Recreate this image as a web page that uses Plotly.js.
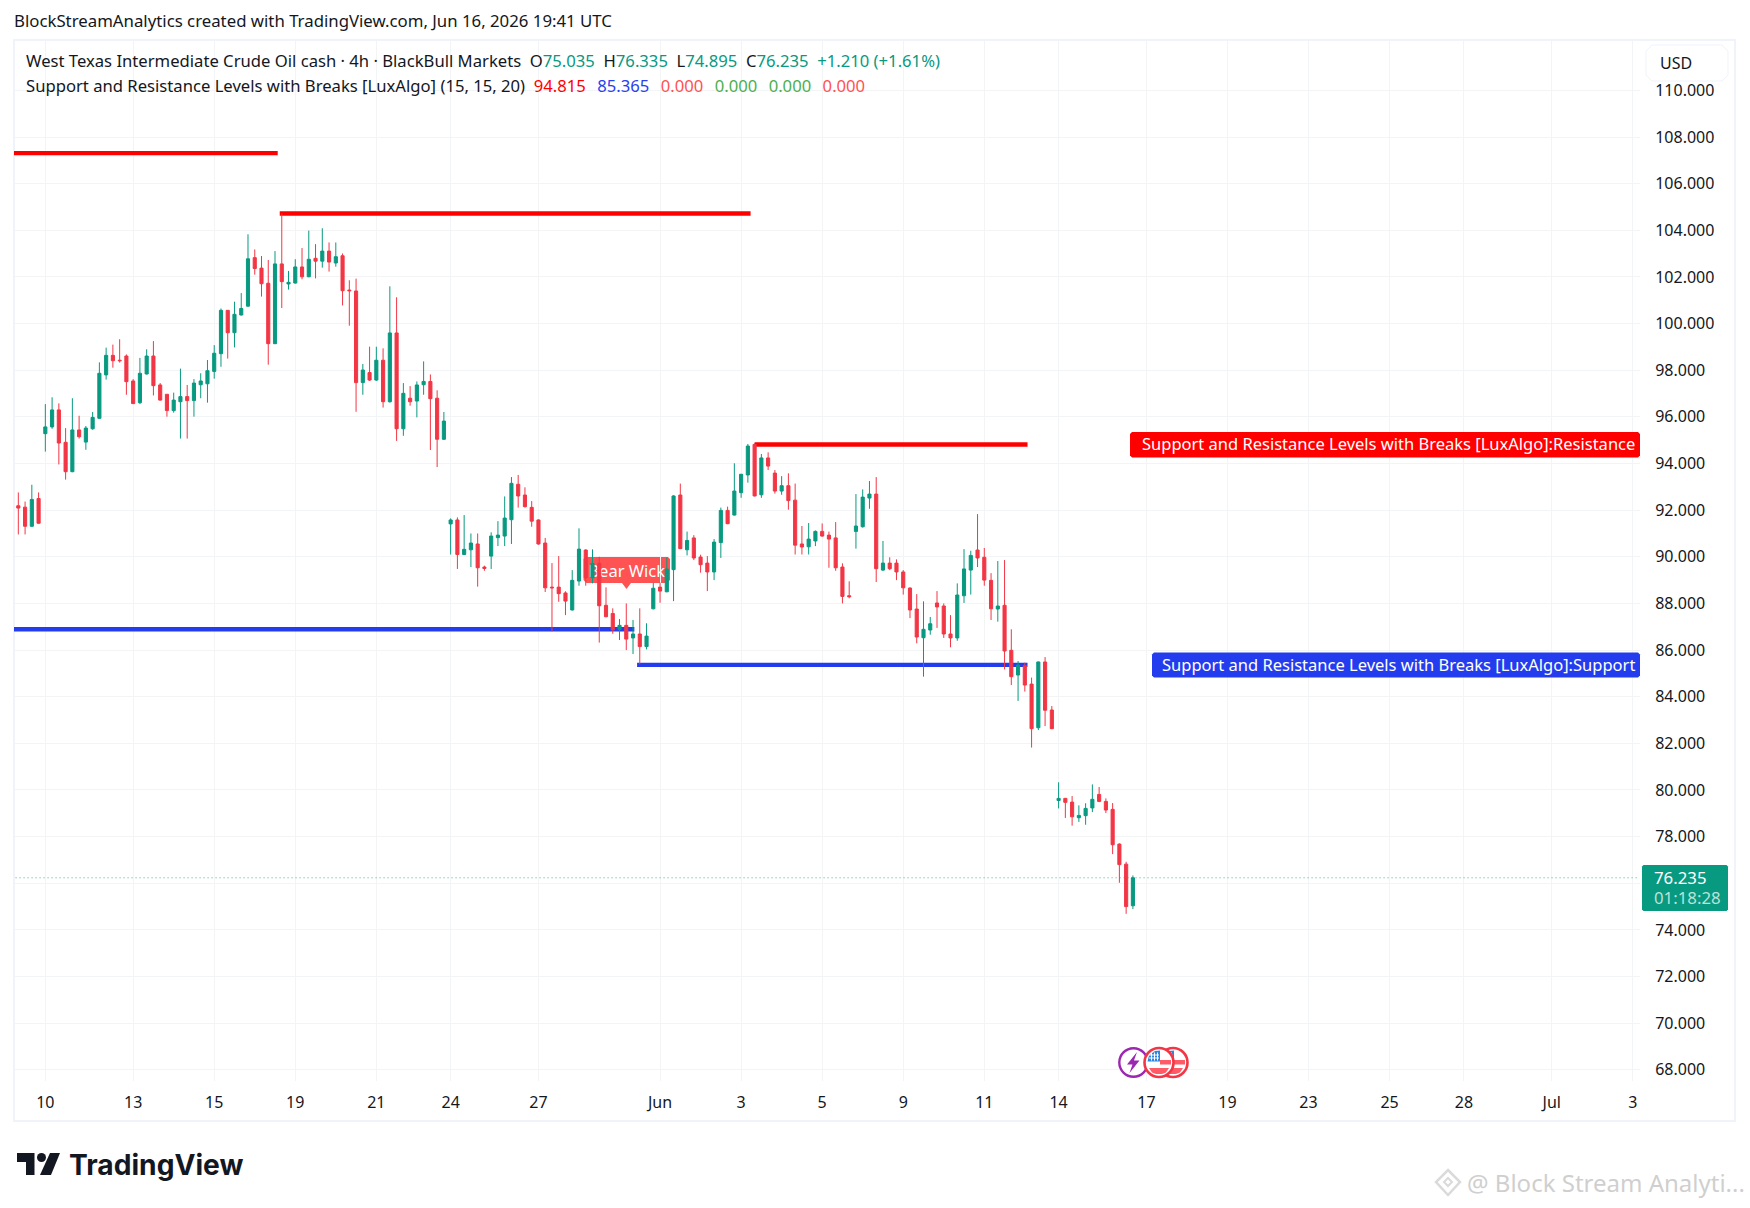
<!DOCTYPE html>
<html>
<head>
<meta charset="utf-8">
<script src="https://cdn.plot.ly/plotly-3.0.1.min.js"></script>
<style>html,body{margin:0;padding:0;background:#fff}#chart{width:1750px;height:1208px}</style>
</head>
<body>
<div id="chart"></div>
<script>
// ---- Data ----
var barHigh = [92.76,92.37,93.09,92.76,96.55,96.84,96.58,95.52,96.80,96.05,
95.61,96.21,98.34,98.97,99.10,99.33,98.68,97.62,98.53,98.90,
99.25,97.45,96.97,97.04,98.07,97.37,97.62,97.87,98.44,99.08,
100.65,100.58,100.94,101.31,103.83,103.18,102.90,102.73,103.11,104.72,
102.26,102.76,103.24,103.99,103.41,104.09,103.48,103.48,103.01,101.86,
101.93,98.27,99.01,99.01,98.94,101.60,101.13,97.45,97.32,97.52,
98.38,97.82,97.14,96.21,91.65,91.69,91.79,91.00,91.00,89.62,
91.05,91.53,92.59,93.42,93.51,92.98,92.39,91.60,90.81,89.73,
90.03,88.52,89.43,91.22,90.32,90.32,90.00,88.69,87.79,87.33,
88.00,87.29,87.79,87.15,88.89,88.89,89.98,92.64,93.14,91.08,
90.93,90.09,90.03,90.76,92.11,92.15,94.01,93.55,94.84,94.87,
94.41,94.48,93.72,93.46,93.58,93.14,91.32,91.45,91.13,91.43,
91.08,91.49,89.72,88.95,92.69,92.89,93.25,93.42,90.68,89.98,
89.89,89.43,88.69,88.40,88.09,87.42,88.53,88.00,87.50,88.86,
90.33,90.26,91.83,90.38,89.30,89.82,89.86,86.89,85.53,85.46,
84.82,85.51,85.70,83.60,80.33,79.66,79.74,79.34,79.43,80.24,
80.13,79.64,79.44,77.71,76.92,76.335];
var barOpen = [92.19,92.13,91.31,92.50,95.28,95.57,96.30,94.91,93.65,95.44,
94.92,95.49,95.94,97.80,98.64,98.43,98.61,97.54,96.61,97.84,
98.61,97.37,96.97,96.27,96.65,96.87,96.70,97.38,97.42,97.95,
98.71,100.57,99.61,100.37,100.75,102.83,102.38,101.73,99.14,102.56,
101.70,101.74,102.43,102.01,102.80,102.68,103.11,102.60,102.91,101.44,
101.40,97.47,97.90,97.58,98.43,96.65,99.60,95.49,96.80,96.68,
97.38,97.52,96.80,95.04,91.41,91.58,90.10,90.30,90.55,89.56,
90.03,90.82,90.89,91.59,93.11,92.65,92.12,91.58,90.59,88.70,
88.70,88.45,87.72,88.96,90.29,89.10,89.72,87.92,87.57,86.89,
87.06,86.52,86.69,86.15,87.77,88.70,88.50,89.45,92.65,90.30,
90.81,89.99,89.73,89.35,90.61,91.99,91.79,92.75,93.51,94.82,
92.66,94.24,93.59,92.82,93.05,92.43,90.55,90.43,90.68,91.09,
90.93,90.81,89.56,88.33,91.09,91.29,92.52,92.69,89.43,89.73,
89.73,89.35,88.66,87.76,86.53,86.86,88.02,87.89,86.69,86.52,
88.33,89.43,90.29,89.98,88.99,87.76,87.92,85.99,84.93,85.33,
84.54,82.67,85.49,83.43,79.55,79.64,79.48,78.81,78.90,79.23,
79.81,79.51,79.17,77.68,76.82,75.035];
var barClose = [92.09,91.31,92.46,91.44,95.57,96.30,94.88,93.65,95.44,95.15,
95.52,95.98,97.87,98.64,98.41,98.41,97.51,96.57,97.87,98.61,
97.34,96.72,96.27,96.72,96.87,96.70,97.45,97.54,97.98,98.73,
100.57,99.61,100.40,100.65,102.78,102.36,101.71,99.14,102.56,101.80,
101.77,102.43,102.01,102.76,102.68,103.11,102.64,102.87,101.41,101.41,
97.47,98.01,97.58,98.43,96.65,99.60,95.49,97.01,96.65,97.37,
97.52,96.78,95.04,95.82,91.58,90.10,90.32,90.59,89.53,89.50,
90.89,90.93,91.66,93.15,92.61,92.15,91.53,90.55,88.67,88.67,
88.42,88.10,88.99,90.33,89.10,89.72,87.90,87.43,86.87,87.06,
86.47,86.69,86.15,86.60,88.65,88.53,89.48,92.61,90.35,90.70,
89.95,89.66,89.35,90.63,91.99,91.42,92.82,93.54,94.75,92.61,
94.24,93.89,92.82,93.05,92.41,90.50,90.42,90.76,91.09,90.89,
90.76,89.53,88.30,88.29,91.32,92.56,92.69,89.49,89.73,89.49,
89.35,88.67,87.72,86.56,86.89,87.13,87.85,86.69,86.52,88.36,
89.48,90.06,89.95,89.00,87.77,87.89,85.96,84.86,85.36,84.50,
82.63,85.49,83.42,82.63,79.64,79.47,78.85,78.91,79.21,79.60,
79.51,79.14,77.65,76.80,75.00,76.235];
var barLow = [90.96,90.96,91.28,91.42,94.51,95.49,93.96,93.31,93.63,95.07,
94.59,95.45,95.92,97.60,98.11,98.33,96.95,96.55,96.55,97.82,
96.92,96.70,96.01,96.18,95.07,95.07,96.01,96.80,96.61,97.64,
98.15,98.50,98.98,100.35,100.73,102.10,101.16,98.24,99.12,100.67,
101.46,101.72,101.90,101.99,101.94,102.40,102.23,102.44,100.78,99.91,
96.22,96.95,97.54,97.54,96.40,96.61,94.97,95.19,96.48,95.98,
96.95,94.58,93.85,95.01,90.10,89.48,90.08,89.56,88.72,89.40,
89.48,90.46,90.46,90.55,92.11,92.11,91.29,90.52,88.49,86.80,
88.07,87.50,87.70,88.76,88.76,88.86,86.32,87.41,86.70,86.43,
86.00,85.83,85.39,86.03,87.75,88.03,88.48,88.10,90.33,90.06,
89.86,89.32,88.53,89.00,89.95,91.40,91.77,92.53,93.18,92.59,
92.53,93.72,92.71,92.66,92.02,90.10,90.10,90.10,90.46,90.86,
89.53,89.40,88.00,88.22,90.35,91.25,92.06,88.92,89.39,89.43,
89.00,88.38,87.37,86.29,84.86,86.66,86.95,86.52,86.12,86.40,
88.02,88.38,89.56,88.76,87.29,87.22,85.17,84.50,83.82,84.22,
81.82,82.57,82.74,82.61,79.21,78.80,78.47,78.63,78.51,79.05,
79.48,79.01,77.25,76.02,74.69,74.895];

var dateTickBars   = [4,17,29,41,53,64,77,95,107,119,131,143,154,167,179,191,203,214,227,239];
var dateTickLabels = ['10','13','15','19','21','24','27','Jun','3','5','9','11','14','17','19','23','25','28','Jul','3'];
var priceTicks = [68,70,72,74,76,78,80,82,84,86,88,90,92,94,96,98,100,102,104,106,108,110];
var priceTickLabels = ['68.000','70.000','72.000','74.000','','78.000','80.000','82.000','84.000','86.000','88.000','90.000','92.000','94.000','96.000','98.000','100.000','102.000','104.000','106.000','108.000','110.000'];

var resistanceBars   = [-1,38.4,null,38.7,108.4,null,109,149.4];
var resistanceLevels = [107.31,107.31,null,104.72,104.72,null,94.815,94.815];
var supportBars      = [-1,91.2,null,91.6,149.4];
var supportLevels    = [86.89,86.89,null,85.365,85.365];
var lastPriceBars    = [-1,240];
var lastPriceLevels  = [76.235,76.235];

var symbolName = 'West Texas Intermediate Crude Oil cash · 4h · BlackBull Markets';
var indicatorName = 'Support and Resistance Levels with Breaks [LuxAlgo] (15, 15, 20)';

// ---- Styles ----
var GREEN='#089981', RED='#F23645', LINE_RED='#FF0000', LINE_BLUE='#233DEE', GRID='#F3F4F6', FRAME='#F0F3FA';
var FONT='"Noto Sans", sans-serif', INK='#131722', TS=16.65, AXS=16;
var PL=14, PR=1640, PT=41, PB=1081, W=1750, H=1208;
var yRange=[67.52,112.12], xRange=[-0.64,240.07];
var px=function(x){return (x-PL)/(PR-PL)}, py=function(y){return (PB-y)/(PB-PT)};

function note(x,y,text,size,color,anchor,extra){
  return Object.assign({xref:'paper',yref:'paper',x:px(x),y:py(y),text:text,showarrow:false,
    xanchor:anchor||'left',yanchor:'middle',borderpad:0,borderwidth:0,
    font:{family:FONT,size:size,color:color||INK}},extra||{});
}
function P(points,close){ // pixel points -> paper path
  return points.map(function(p,i){return (i?'L':'M')+px(p[0]).toFixed(5)+','+py(p[1]).toFixed(5)}).join(' ')+(close?' Z':'');
}
function pathShape(points,fill,layer,extra){
  return Object.assign({type:'path',xref:'paper',yref:'paper',path:P(points,true),fillcolor:fill,line:{width:0},layer:layer||'above'},extra||{});
}
function rectShape(x0,y0,x1,y1,fill,extra){
  return Object.assign({type:'rect',xref:'paper',yref:'paper',x0:px(x0),x1:px(x1),y0:py(y0),y1:py(y1),fillcolor:fill,line:{width:0},layer:'above'},extra||{});
}
function circleShape(cx,cy,r,fill,color,width){
  return {type:'circle',xref:'paper',yref:'paper',x0:px(cx-r),x1:px(cx+r),y0:py(cy+r),y1:py(cy-r),fillcolor:fill,line:{color:color,width:width},layer:'above'};
}
function roundRectPts(x0,y0,x1,y1,r,extraBottom){
  var pts=[[x0+r,y0],[x1-r,y0],[x1,y0+r],[x1,y1-r],[x1-r,y1]];
  if(extraBottom) pts=pts.concat(extraBottom);
  return pts.concat([[x0+r,y1],[x0,y1-r],[x0,y0+r]]);
}
function usFlag(cx,cy){
  var s=[circleShape(cx,cy,14.5,'#ffffff',RED,2.6)];
  s.push(pathShape([[cx-10,cy+5.5],[cx+10,cy+5.5],[cx+7,cy+10],[cx+3,cy+11.5],[cx-3,cy+11.5],[cx-7,cy+10]],'#FF5A66'));
  s.push(rectShape(cx+1,cy-2.5,cx+12,cy+2,'#FF5A66'));
  s.push(pathShape([[cx-11.5,cy-1],[cx-10,cy-7],[cx-4,cy-11.5],[cx+1,cy-12],[cx+1,cy-1]],'#2E86DE'));
  [-8,-5,-2].forEach(function(dx){s.push(rectShape(cx+dx,cy-10,cx+dx+1,cy-2,'#ffffff'))});
  [-8,-5].forEach(function(dy){s.push(rectShape(cx-10,cy+dy,cx,cy+dy+1,'#ffffff'))});
  return s;
}

var shapes=[];
// frame of the chart
shapes.push({type:'rect',xref:'paper',yref:'paper',x0:px(14),x1:px(1735),y0:py(1121),y1:py(40),fillcolor:'rgba(0,0,0,0)',line:{color:FRAME,width:2},layer:'below'});
// Bear Wick label (behind the candles)
shapes.push(pathShape(roundRectPts(583.5,556,670,583,3,[[631,583],[626.5,589],[622,583]]),'#FF5252','below',
  {label:{text:'Bear Wick',textposition:'middle center',font:{family:FONT,size:16.5,color:'#ffffff'},yanchor:'middle',padding:0}}));
// right hand level tags
shapes.push(pathShape(roundRectPts(1130,432,1640,457.5,2),LINE_RED));
shapes.push(pathShape(roundRectPts(1152,652.5,1640,677.5,2),LINE_BLUE));
// last price tag
shapes.push(pathShape(roundRectPts(1642,865,1728,911,1.5),GREEN));
// USD button
shapes.push(pathShape(roundRectPts(1646,45,1728,81,6),'#ffffff','above',{line:{color:'#F0F3FA',width:1}}));
// event icons
shapes.push(circleShape(1133.5,1062.5,14.2,'#ffffff','#9C27B0',2.4));
shapes.push(pathShape([[1137,1052],[1127,1064.5],[1132.5,1064.5],[1129.5,1073],[1139.5,1060.5],[1134,1060.5]],'#9C27B0'));
shapes=shapes.concat(usFlag(1173,1062.5)).concat(usFlag(1159,1062.5));
// TradingView logo
shapes.push(pathShape([[17,1153],[34.5,1153],[34.5,1175],[26,1175],[26,1162],[17,1162]],'#131722'));
shapes.push(circleShape(41.5,1157.5,4.5,'#131722','#131722',0));
shapes.push(pathShape([[50,1153],[60,1153],[51,1175],[40,1175]],'#131722'));
// watermark diamond
shapes.push({type:'path',xref:'paper',yref:'paper',path:P([[1448,1170],[1460,1182],[1448,1195],[1436,1182]],true),fillcolor:'rgba(0,0,0,0)',line:{color:'#DADADA',width:2.5},layer:'above'});
shapes.push({type:'path',xref:'paper',yref:'paper',path:P([[1448,1178],[1452,1182],[1448,1186],[1444,1182]],true),fillcolor:'rgba(0,0,0,0)',line:{color:'#DADADA',width:2},layer:'above'});

var sp='\u00a0', gap=sp+sp+'\u2009';
function col(c,t){return '<span style="color:'+c+'">'+t+'</span>'}
var annotations=[
  note(14,20.5,'BlockStreamAnalytics created with TradingView.com, Jun 16, 2026 19:41 UTC',16.8,INK),
  note(26,60,symbolName+sp+sp+'O'+col(GREEN,'75.035')+sp+sp+'H'+col(GREEN,'76.335')+sp+sp+'L'+col(GREEN,'74.895')+sp+sp+'C'+col(GREEN,'76.235')+sp+sp+col(GREEN,'+1.210 (+1.61%)'),TS,INK),
  note(26,85.5,indicatorName+sp+sp+col('#FF0000','94.815')+gap+col('#2A3FF0','85.365')+gap+col('#FF5252','0.000')+gap+col('#4CAF50','0.000')+gap+col('#4CAF50','0.000')+gap+col('#FF5252','0.000'),TS,INK),
  note(1635,443.5,'Support and Resistance Levels with Breaks [LuxAlgo]:Resistance',16.5,'#ffffff','right'),
  note(1635,664,'Support and Resistance Levels with Breaks [LuxAlgo]:Support',16.5,'#ffffff','right'),
  note(1654,877,'76.235',16.8,'#ffffff'),
  note(1654,897,'01:18:28',16.8,'#B9E3DA'),
  note(1660,63,'USD',AXS,INK),
  note(69,1165,'<b>TradingView</b>',28.2,'#131722','left',{font:{family:'Inter, "Noto Sans", sans-serif',size:28.2,color:'#131722'}}),
  note(1467,1182,'@ Block Stream Analyti...',24,'#CFCFCF','left')
];

var data=[
  {type:'scatter',mode:'lines',name:'Resistance',x:resistanceBars,y:resistanceLevels,connectgaps:false,line:{color:LINE_RED,width:4.4},hoverinfo:'skip',xaxis:'x',yaxis:'y'},
  {type:'scatter',mode:'lines',name:'Support',x:supportBars,y:supportLevels,connectgaps:false,line:{color:LINE_BLUE,width:4.4},hoverinfo:'skip',xaxis:'x',yaxis:'y'},
  {type:'scatter',mode:'lines',name:'Last',x:lastPriceBars,y:lastPriceLevels,line:{color:'rgba(8,153,129,0.75)',width:1,dash:'1px,3px'},hoverinfo:'skip',xaxis:'x',yaxis:'y'},
  {type:'candlestick',name:'WTI',x:barHigh.map(function(_,i){return i}),open:barOpen,high:barHigh,low:barLow,close:barClose,
   increasing:{line:{color:GREEN,width:1},fillcolor:GREEN},decreasing:{line:{color:RED,width:1},fillcolor:RED},
   whiskerwidth:0,xaxis:'x',yaxis:'y2',hoverinfo:'skip'}
];

var layout={
  width:W,height:H,showlegend:false,paper_bgcolor:'#ffffff',plot_bgcolor:'#ffffff',
  margin:{l:PL,r:W-PR,t:PT,b:H-PB,pad:0},boxgap:0.34,dragmode:false,hovermode:false,
  xaxis:{type:'linear',range:xRange,tickmode:'array',tickvals:dateTickBars,ticktext:dateTickLabels,showgrid:true,gridcolor:GRID,gridwidth:1,
    zeroline:false,showline:false,ticks:'outside',ticklen:7,tickcolor:'rgba(0,0,0,0)',tickfont:{family:FONT,size:AXS,color:INK},rangeslider:{visible:false},fixedrange:true},
  yaxis:{type:'linear',range:yRange,side:'right',tickmode:'array',tickvals:priceTicks,ticktext:priceTickLabels,showgrid:true,gridcolor:GRID,gridwidth:1,
    zeroline:false,showline:false,ticks:'outside',ticklen:11,tickcolor:'rgba(0,0,0,0)',tickfont:{family:FONT,size:AXS,color:INK},fixedrange:true},
  yaxis2:{type:'linear',range:yRange,overlaying:'y',side:'right',visible:false,showgrid:false,zeroline:false,fixedrange:true},
  shapes:shapes,annotations:annotations
};
Plotly.newPlot('chart',data,layout,{displayModeBar:false,staticPlot:true});
</script>
</body>
</html>
